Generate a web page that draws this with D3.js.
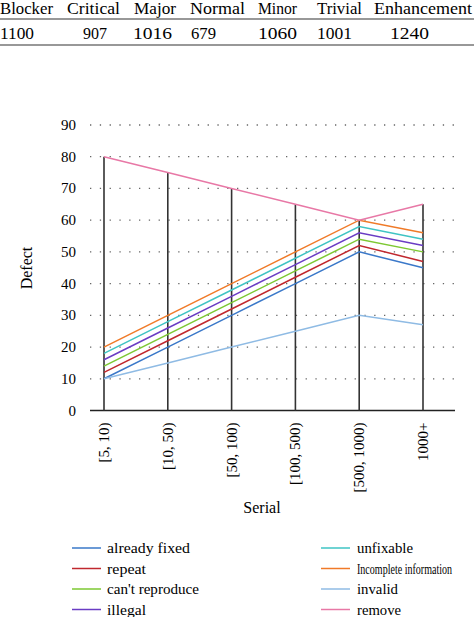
<!DOCTYPE html><html><head><meta charset="utf-8"><script src="https://cdn.jsdelivr.net/npm/d3@7"></script>
<style>body{margin:0;background:#fff}text{font-family:"Liberation Serif",serif}</style></head><body><svg id="c" width="474" height="617"></svg><script>
const tableHeads=["Blocker","Critical","Major","Normal","Minor","Trivial","Enhancement"];
const tableVals=["1100","907","1016","679","1060","1001","1240"];
const categories=["[5, 10)","[10, 50)","[50, 100)","[100, 500)","[500, 1000)","1000+"];
const seriesNames=["already fixed","repeat","can't reproduce","illegal","unfixable","Incomplete information","invalid","remove"];
const seriesColors=["#3a78c9","#c0282e","#7dc832","#6a3cc4","#3fc4c4","#f07a28","#8fbbe4","#e878a6"];
const alreadyFixed=[10,20,30,40,50,45];
const repeat=[12,22,32,42,52,47];
const cantReproduce=[14,24,34,44,54,50];
const illegal=[16,26,36,46,56,52];
const unfixable=[18,28,38,48,58,54];
const incomplete=[20,30,40,50,60,56];
const invalid=[10,15,20,25,30,27];
const remove=[80,75,70,65,60,65];
const series=[alreadyFixed,repeat,cantReproduce,illegal,unfixable,incomplete,invalid,remove];
const yTicks=[0,10,20,30,40,50,60,70,80,90];
const svg=d3.select("#c");
function fit(sel,w){sel.attr("textLength",w).attr("lengthAdjust","spacingAndGlyphs");return sel;}
// table
const headX=[0,67,134,190,258,317,374], headW=[53,53,42,55,39,45,98];
const valX=[0,83,133,191,258,317,390], valW=[34,24,39,25,39,35,39];
tableHeads.forEach((h,i)=>{
 fit(svg.append("text").attr("x",headX[i]).attr("y",14).attr("font-size",17).text(h),headW[i]);
 fit(svg.append("text").attr("x",valX[i]).attr("y",39).attr("font-size",17).text(tableVals[i]),valW[i]);
});
svg.append("line").attr("x1",0).attr("x2",474).attr("y1",19).attr("y2",19).attr("stroke","#333").attr("stroke-width",1.2);
svg.append("line").attr("x1",0).attr("x2",474).attr("y1",45).attr("y2",45).attr("stroke","#333").attr("stroke-width",1.2);
// chart
const y=d3.scaleLinear().domain([0,90]).range([410.5,125]);
const x=d3.scalePoint().domain(categories).range([104,423]);
const gx0=90,gx1=455;
yTicks.forEach(t=>{
 if(t>0) svg.append("line").attr("x1",gx0).attr("x2",gx1).attr("y1",y(t)).attr("y2",y(t)).attr("stroke","#666").attr("stroke-width",1.3).attr("stroke-dasharray","1.3,8.5");
 svg.append("text").attr("x",76).attr("y",y(t)+5).attr("text-anchor","end").attr("font-size",15).text(t);
});
svg.append("line").attr("x1",gx0).attr("x2",gx1).attr("y1",y(0)).attr("y2",y(0)).attr("stroke","#222").attr("stroke-width",1.3);
categories.forEach((c,i)=>{
 const mx=d3.max(series,s=>s[i]);
 svg.append("line").attr("x1",x(c)).attr("x2",x(c)).attr("y1",y(0)).attr("y2",y(mx)).attr("stroke","#333").attr("stroke-width",1.6);
 svg.append("text").attr("transform",`translate(${x(c)+5},${y(0)+12}) rotate(-90)`).attr("text-anchor","end").attr("font-size",15).text(c);
});
const line=d3.line().x((d,i)=>x(categories[i])).y(d=>y(d));
series.forEach((s,k)=>svg.append("path").attr("d",line(s)).attr("fill","none").attr("stroke",seriesColors[k]).attr("stroke-width",1.5));
svg.append("text").attr("x",262).attr("y",513).attr("text-anchor","middle").attr("font-size",16).text("Serial");
svg.append("text").attr("transform","translate(32,268) rotate(-90)").attr("text-anchor","middle").attr("font-size",16).text("Defect");
// legend
const legW=[83,39,92,39,56,95,41,44];
seriesNames.forEach((n,k)=>{
 const col=k<4?0:1,row=k%4;
 const lx=col?321:72, tx=col?357:107, ly=548+row*20.5;
 svg.append("line").attr("x1",lx).attr("x2",lx+29).attr("y1",ly).attr("y2",ly).attr("stroke",seriesColors[k]).attr("stroke-width",1.5);
 fit(svg.append("text").attr("x",tx).attr("y",ly+5).attr("font-size",15).text(n),legW[k]);
});
</script></body></html>
